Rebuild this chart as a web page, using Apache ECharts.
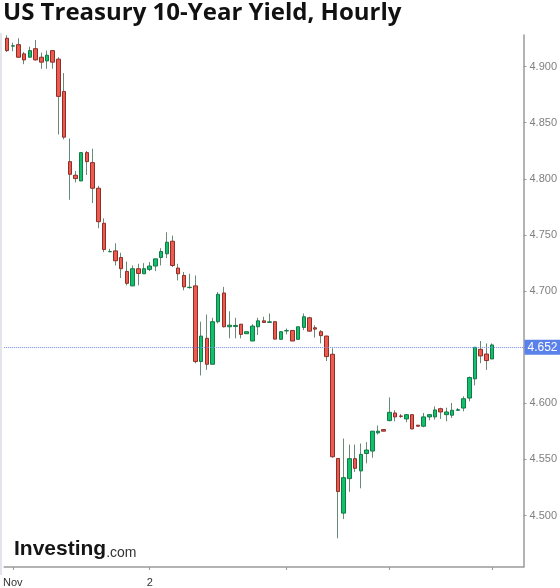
<!DOCTYPE html>
<html>
<head>
<meta charset="utf-8">
<script src="https://cdn.jsdelivr.net/npm/echarts@6/dist/echarts.min.js"></script>
<style>
  html, body { margin: 0; padding: 0; background: #ffffff; }
  #chart { width: 560px; height: 588px; }
</style>
</head>
<body>
<div id="chart"></div>
<script>
const titleText = 'US Treasury 10-Year Yield, Hourly';
const currentPrice = 4.652;

const opens = [4.9252,4.9182,4.9195,4.9113,4.9083,4.9159,4.9083,4.9050,4.9142,4.9066,
  4.8778,4.8153,4.8032,4.7981,4.8233,4.8144,4.7916,4.7604,4.7350,4.7358,
  4.7299,4.7175,4.7046,4.7199,4.7154,4.7193,4.7223,4.7299,4.7332,4.7444,
  4.7205,4.7139,4.7031,4.7046,4.6372,4.6579,4.6348,4.6727,4.6983,4.6682,
  4.6684,4.6705,4.6620,4.6555,4.6682,4.6735,4.6721,4.6727,4.6570,4.6645,
  4.6649,4.6570,4.6676,4.6762,4.6673,4.6638,4.6599,4.6437,4.5509,4.5022,
  4.5329,4.5507,4.5398,4.5553,4.5575,4.5737,4.5766,4.5846,4.5914,4.5887,
  4.5861,4.5899,4.5805,4.5796,4.5879,4.5879,4.5952,4.5899,4.5894,4.5938,
  4.5958,4.6047,4.6218,4.6481,4.6439,4.6395];
const closes = [4.9142,4.9185,4.9083,4.9059,4.9142,4.9059,4.9039,4.9101,4.9039,4.8734,
  4.8371,4.8040,4.8002,4.8233,4.8153,4.7916,4.7618,4.7370,4.7352,4.7270,
  4.7199,4.7069,4.7199,4.7157,4.7199,4.7223,4.7287,4.7352,4.7435,4.7228,
  4.7154,4.7037,4.7034,4.6372,4.6599,4.6348,4.6727,4.6971,4.6682,4.6696,
  4.6694,4.6614,4.6638,4.6688,4.6735,4.6720,4.6726,4.6572,4.6638,4.6648,
  4.6555,4.6682,4.6771,4.6643,4.6661,4.6603,4.6416,4.5524,4.5214,4.5338,
  4.5507,4.5421,4.5545,4.5584,4.5752,4.5752,4.5752,4.5920,4.5879,4.5884,
  4.5899,4.5772,4.5796,4.5879,4.5899,4.5941,4.5923,4.5923,4.5938,4.5943,
  4.6041,4.6230,4.6499,4.6422,4.6381,4.6520];
const lows = [4.9130,4.9136,4.9077,4.9021,4.9083,4.9053,4.8980,4.8980,4.8980,4.8395,
  4.8351,4.7813,4.7967,4.7979,4.8034,4.7784,4.7559,4.7347,4.7349,4.7228,
  4.7116,4.7051,4.7046,4.7051,4.7154,4.7178,4.7178,4.7228,4.7294,4.7214,
  4.7095,4.7007,4.7022,4.6357,4.6248,4.6298,4.6348,4.6712,4.6676,4.6579,
  4.6579,4.6579,4.6620,4.6555,4.6608,4.6720,4.6720,4.6572,4.6570,4.6614,
  4.6555,4.6570,4.6652,4.6638,4.6585,4.6534,4.6377,4.5515,4.4798,4.4969,
  4.5212,4.5389,4.5243,4.5465,4.5515,4.5722,4.5750,4.5840,4.5840,4.5870,
  4.5832,4.5768,4.5794,4.5787,4.5849,4.5855,4.5861,4.5840,4.5870,4.5935,
  4.5929,4.6018,4.6160,4.6357,4.6298,4.6395];
const highs = [4.9278,4.9213,4.9252,4.9130,4.9177,4.9237,4.9124,4.9142,4.9142,4.9083,
  4.8942,4.8359,4.8070,4.8235,4.8247,4.8268,4.7937,4.7648,4.7376,4.7426,
  4.7341,4.7263,4.7228,4.7243,4.7249,4.7258,4.7287,4.7382,4.7524,4.7494,
  4.7243,4.7170,4.7154,4.7139,4.6727,4.6791,4.6762,4.6992,4.7037,4.6820,
  4.6762,4.6705,4.6638,4.6705,4.6762,4.6771,4.6800,4.6727,4.6643,4.6667,
  4.6649,4.6682,4.6800,4.6771,4.6696,4.6652,4.6603,4.6490,4.5509,4.5686,
  4.5633,4.5633,4.5642,4.5654,4.5752,4.5802,4.5770,4.6053,4.5938,4.5905,
  4.5905,4.5899,4.5808,4.5914,4.5905,4.5973,4.5961,4.5961,4.6003,4.5958,
  4.6062,4.6239,4.6499,4.6555,4.6534,4.6534];

// x-axis tick positions (hour slot index) and their labels
const tickIndex = [1, 25, 49, 67, 85];
const tickText = ['Nov', '2', '', '', ''];
const emptySlotsRight = 5;

// hourly slots (86 candles + empty room on the right)
const categories = [];
for (let i = 0; i < opens.length + emptySlotsRight; i++) categories.push(String(i));

const fullData = opens.map((o, i) => [o, closes[i], lows[i], highs[i]]);
const bodyData = opens.map((o, i) => [o, closes[i], Math.min(o, closes[i]), Math.max(o, closes[i])]);

const chart = echarts.init(document.getElementById('chart'), null, { renderer: 'canvas' });
const isTick = (idx) => tickIndex.indexOf(idx) >= 0;

chart.setOption({
  animation: false,
  backgroundColor: '#ffffff',
  grid: { left: 2.4, right: 35.8, top: 35, bottom: 18, containLabel: false },
  xAxis: {
    type: 'category',
    data: categories,
    boundaryGap: true,
    axisLine: { show: true, lineStyle: { color: '#9a9a9a', width: 1.5 } },
    axisTick: { show: true, alignWithLabel: true, interval: (idx) => isTick(idx), length: 3, lineStyle: { color: '#9a9a9a' } },
    axisLabel: {
      interval: (idx) => isTick(idx),
      formatter: (v, idx) => { const k = tickIndex.indexOf(idx); return k >= 0 ? tickText[k] : ''; },
      color: '#333', fontSize: 11, fontFamily: 'Liberation Sans', margin: 10
    },
    splitLine: { show: false }
  },
  yAxis: {
    type: 'value',
    position: 'right',
    min: 4.4542,
    max: 4.9281,
    splitNumber: 9,
    scale: true,
    axisLine: { show: true, lineStyle: { color: '#9a9a9a', width: 1.5 } },
    axisTick: { show: true, length: 3, lineStyle: { color: '#9a9a9a' } },
    axisLabel: {
      showMinLabel: false, showMaxLabel: false,
      formatter: (v) => v.toFixed(3),
      color: '#808080', fontSize: 11, fontFamily: 'Liberation Sans', margin: 6
    },
    splitLine: { show: false }
  },
  graphic: [
    { type: 'rect', left: 0, top: 33, shape: { width: 2, height: 542 }, style: { fill: '#e4e4ec' }, silent: true },
    { type: 'text', left: 3, top: 1, style: { text: titleText, fill: '#111', font: 'bold 24px "Open Sans"' }, silent: true },
    { type: 'text', left: 14, top: 539, style: {
        text: '{a|Investing}{b|.com}',
        rich: {
          a: { fontFamily: 'Liberation Sans', fontWeight: 'bold', fontSize: 21, fill: '#151515', verticalAlign: 'bottom' },
          b: { fontFamily: 'Liberation Sans', fontSize: 14, fill: '#333', verticalAlign: 'bottom' }
        }
      }, silent: true }
  ],
  series: [
    {
      name: 'wick',
      type: 'candlestick',
      data: fullData,
      barWidth: 0.5,
      itemStyle: { color: '#6a8a78', color0: '#6a8a78', borderColor: '#6a8a78', borderColor0: '#6a8a78', borderWidth: 1 },
      silent: true
    },
    {
      name: 'US 10Y',
      type: 'candlestick',
      data: bodyData,
      barWidth: 4,
      itemStyle: { color: '#12bf6b', color0: '#ef5a50', borderColor: '#127a46', borderColor0: '#8c2f27', borderWidth: 1 },
      markLine: {
        silent: true,
        symbol: ['none', 'none'],
        lineStyle: { type: 'dotted', color: '#6f88ea', width: 1 },
        label: {
          show: true, position: 'end', distance: 1,
          formatter: () => currentPrice.toFixed(3),
          color: '#ffffff', backgroundColor: '#5a80ea', fontSize: 12,
          fontFamily: 'Liberation Sans', padding: [2, 3, 1, 3]
        },
        data: [{ yAxis: currentPrice }]
      }
    }
  ]
});
</script>
</body>
</html>
